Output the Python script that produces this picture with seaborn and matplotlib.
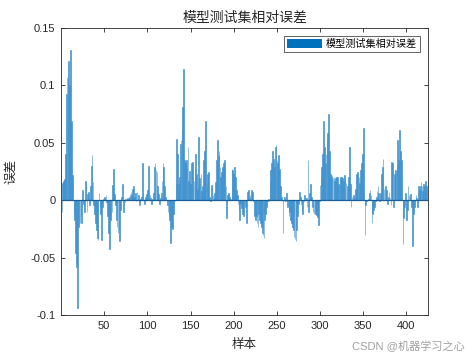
import numpy as np
import pandas as pd
import matplotlib
matplotlib.use("Agg")
import matplotlib.pyplot as plt
import seaborn as sns
from matplotlib.patches import Patch

# ---- data (relative error, in thousandths) ----
err_1_60 = [-10, 15, 17, 18, 40, 92, 107, 105, 121, 100, 131, 69, 22, 20, -12, -17, -46, -58, -94, -23,
            -17, -20, -14, -20, 9, -3, -10, 17, 14, -10, 5, 7, -4, 12, 30, 39, 16, -4, -12, -20,
            -26, -33, -35, 6, -5, -12, -35, -6, 1, 3, 2, 4, -2, -14, -29, -43, -17, -12, -10, 13]
err_61_120 = [27, 5, -4, -17, -23, -29, -26, -36, -9, 3, 14, -10, -4, -2, 1, 0, 2, 1, 3, 5,
              7, 4, 10, 12, 3, 6, -1, 7, 2, 4, -4, 1, 3, 32, 6, 1, -3, 3, 5, 9,
              30, 6, 4, 2, -3, 1, 6, 29, 32, 26, 24, 12, 5, -3, 2, 6, 17, 32, 29, 12]
err_121_180 = [3, 0, -4, -10, -14, -17, -37, -23, -25, -12, -5, -1, 14, 53, 40, 14, 20, 49, 52, 61,
               81, 114, 35, 32, 35, 29, 46, 17, 25, 14, 32, 33, 20, 17, 28, 40, 23, 10, 55, 19,
               14, 23, 8, 12, 35, 43, 69, 20, 14, 23, 24, 3, -1, 13, 12, 4, 1, 6, 16, 35]
err_181_240 = [52, 38, 43, 29, 20, 24, 29, 32, 35, 30, 12, -16, 4, 6, 3, 1, 0, 27, 26, 23,
               29, 20, 9, 4, -3, -9, -17, -3, -7, -12, -14, -6, 0, -6, -20, 7, 9, 2, 4, 3,
               9, 7, -1, -14, -17, -14, -20, -23, -12, -17, -20, -23, -29, -30, -33, -17, -12, -6, -1, 1]
err_241_300 = [-1, 17, 26, 32, 43, 36, 29, 46, 48, 35, 32, 39, 27, 12, 3, 1, -29, 0, 3, -1,
               6, -6, -4, -14, -10, -17, -20, -23, -26, -32, -34, -36, -26, -14, -3, 7, 3, -4, -9, -12,
               -1, 4, 0, 2, -6, 35, -10, 6, 14, 3, -6, -10, -12, -10, -12, -13, -15, -22, -1, 13]
err_301_360 = [20, 29, 40, 69, 46, 32, 40, 52, 58, 75, 43, 23, 20, 22, 19, 20, 17, 19, 20, 20,
               14, 13, 18, 20, 20, 19, 17, 22, 20, 15, 0, 12, 20, 46, 14, -6, 3, 1, 4, 2,
               10, 23, 24, 22, 20, 15, 26, 32, 40, 63, 6, -30, -4, -1, 0, 1, 6, 9, 4, -20]
err_361_424 = [-12, -9, -6, -1, 3, 8, 12, 6, -1, 6, 23, 29, 36, 10, 0, 12, 9, -3, 3, 7,
               2, -4, 33, 32, -6, 23, 26, 24, 30, 52, 35, 61, 43, 35, 20, -38, -16, -6, 6, -17,
               -9, 12, 4, 3, 5, -6, -40, -12, -6, -1, 4, 2, -6, 12, 9, 12, 16, 12, 8, 14,
               12, 17, 12, 6]

rel_err = np.array(err_1_60 + err_61_120 + err_121_180 + err_181_240 +
                   err_241_300 + err_301_360 + err_361_424) / 1000.0
sample = np.arange(1, len(rel_err) + 1)

title_txt = "模型测试集相对误差"
legend_txt = "模型测试集相对误差"
xlabel_txt = "样本"
ylabel_txt = "误差"
xticks = [50, 100, 150, 200, 250, 300, 350, 400]
yticks = [-0.1, -0.05, 0, 0.05, 0.1, 0.15]
ytick_labels = ["-0.1", "-0.05", "0", "0.05", "0.1", "0.15"]

plt.rcParams['font.family'] = ['Liberation Sans', 'Noto Sans CJK SC', 'DejaVu Sans']
plt.rcParams['axes.unicode_minus'] = False

bar_color = "#0072BD"
edge_color = "#4f9ad3"
fig = plt.figure(figsize=(4.74, 3.55), dpi=100)
ax = fig.add_axes([61 / 474, 40 / 355, 367 / 474, 287.3 / 355])

df = pd.DataFrame({"sample": sample, "err": rel_err})
sns.barplot(data=df, x="sample", y="err", native_scale=True, color=bar_color,
            width=0.8, linewidth=0.45, edgecolor=edge_color, saturation=1,
            errorbar=None, ax=ax)
ax.axhline(0, color="#1a5f99", lw=0.9, zorder=3)

ax.set_xlim(0, len(rel_err) + 1)
ax.set_ylim(-0.1, 0.15)
ax.set_xticks(xticks)
ax.set_xticklabels([str(t) for t in xticks])
ax.set_yticks(yticks)
ax.set_yticklabels(ytick_labels)
ax.tick_params(direction="in", length=3, width=0.6, labelsize=8, colors="#262626",
               top=True, right=True, pad=4)
for s in ax.spines.values():
    s.set_color("#262626")
    s.set_linewidth(0.6)

ax.set_title(title_txt, fontsize=10, pad=4, color="#262626")
ax.set_xlabel(xlabel_txt, fontsize=9, color="#262626")
ax.set_ylabel(ylabel_txt, fontsize=9, color="#262626")
ax.xaxis.set_label_coords(0.5, -0.083)
ax.yaxis.set_label_coords(-0.12, 0.5)

handle = Patch(facecolor=bar_color, edgecolor="none")
leg = ax.legend([handle], [legend_txt], loc="upper right", fontsize=7.3,
                frameon=True, fancybox=False, framealpha=1, edgecolor="#262626",
                handlelength=3.45, handleheight=0.9, handletextpad=0.4,
                borderpad=0.3, borderaxespad=0.8)
leg.get_frame().set_linewidth(0.5)

fig.text(465 / 474, 1 - 346 / 355, "CSDN @机器学习之心", ha="right", va="center",
         fontsize=8, color="#a0a0a0")

fig.savefig("out.png", dpi=100)
